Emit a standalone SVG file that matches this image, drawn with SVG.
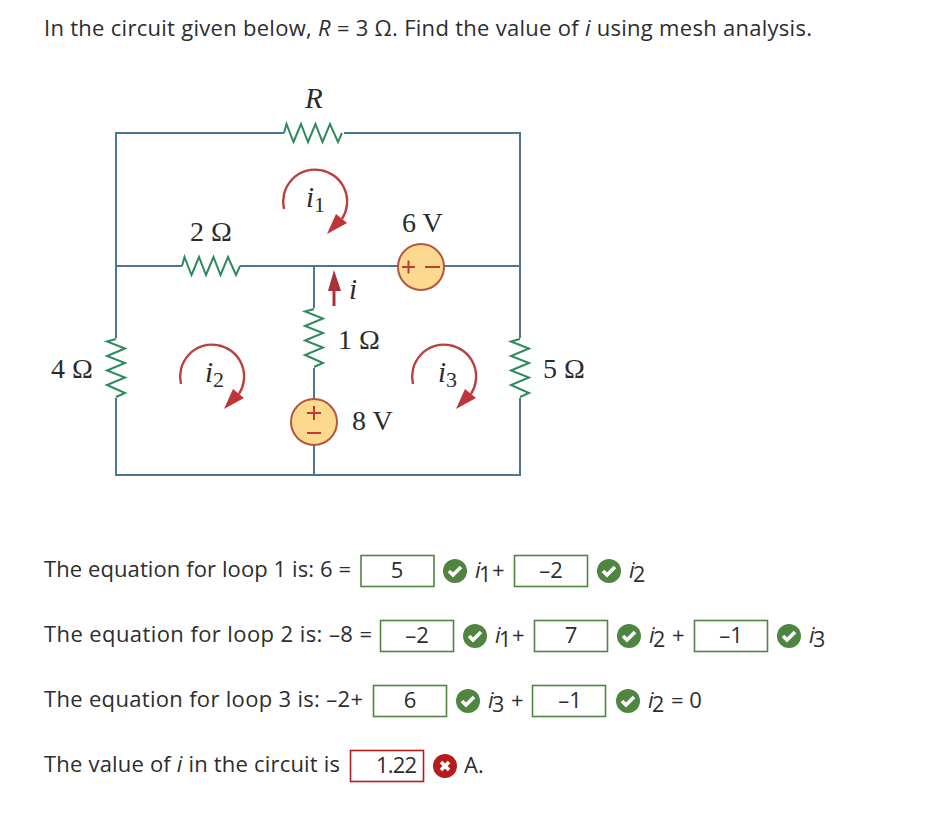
<svg xmlns="http://www.w3.org/2000/svg" xmlns:xlink="http://www.w3.org/1999/xlink" width="940" height="826" viewBox="0 0 940 826">
<style>
.w{fill:none;stroke:#4d7592;stroke-width:2}
.z{fill:none;stroke:#2f8a5c;stroke-width:2}
.s{font-family:"Liberation Serif","Times New Roman",serif;font-size:28px;fill:#2b2b2b}
.si{font-family:"Liberation Serif","Times New Roman",serif;font-size:29px;font-style:italic;fill:#2b2b2b}
.sub{font-family:"Liberation Serif","Times New Roman",serif;font-size:22px;font-style:normal;fill:#2b2b2b}
.t{font-family:"Open Sans","Liberation Sans",sans-serif;font-size:22px;fill:#2d2d2d}
.i{font-style:italic}
.d{font-size:21.500px}
.n{font-family:"Open Sans","Liberation Sans",sans-serif;font-size:22px;fill:#2d2d2d;text-anchor:middle}
.b{fill:#fff;stroke:#4f8441;stroke-width:1.6}
.r{fill:#fff;stroke:#b51c1c;stroke-width:1.6}
.src{fill:#fbd98f;stroke:#b5573f;stroke-width:2}
.sg{fill:none;stroke:#bf3a34;stroke-width:2}
.ck{fill:none;stroke:#fff;stroke-width:3.6}
</style>
<defs>
<g id="loop"><path d="M-31 10A32 32 0 1 1 27 20" fill="none" stroke="#b8403f" stroke-width="2.400"/><polygon points="12,35 21,15 32,24" fill="#c0333a"/></g>
<g id="ok"><circle r="12" fill="#4f8441"/><path class="ck" d="M-6 0L-2 4L6 -4"/></g>
<g id="no"><circle r="12" fill="#b51c1c"/><path class="ck" d="M-4 -4L4 4M4 -4L-4 4"/></g>
<path id="zz" class="z" d="M0 0L2.500 -9L9.500 9L17 -9L24 9L31.500 -9L38.500 9L46 -9L54 9L58 0"/>
</defs>
<rect width="940" height="826" fill="#fff"/>

<text class="t" x="44" y="36" textLength="768">In the circuit given below, <tspan class="i">R</tspan> = 3 Ω. Find the value of <tspan class="i">i</tspan> using mesh analysis.</text>

<g id="connectors">
<path class="w" d="M284 133H116V338M116 398V475H520V398M520 338V133H344"/>
<path class="w" d="M116 266H182M240 266H398M444 266H520"/>
<path class="w" d="M314 266V308M314 368V399M314 445V475"/>
<path d="M334 306V290" stroke="#a93238" stroke-width="3" fill="none"/>
<polygon points="334,270 341,291 328,291" fill="#a93238"/>
</g>

<g id="R"><use xlink:href="#zz" href="#zz" transform="translate(284 133)"/><text class="si" x="305" y="108">R</text></g>
<g id="R2"><use xlink:href="#zz" href="#zz" transform="translate(182 266)"/><text class="s" x="190" y="241">2 Ω</text></g>
<g id="R4"><use xlink:href="#zz" href="#zz" transform="translate(116 339) rotate(90) scale(1 -1)"/><text class="s" x="51" y="378">4 Ω</text></g>
<g id="R1"><use xlink:href="#zz" href="#zz" transform="translate(314 309) rotate(90) scale(1 -1)"/><text class="s" x="338" y="349">1 Ω</text></g>
<g id="R5"><use xlink:href="#zz" href="#zz" transform="translate(520 339) rotate(90) scale(1 -1)"/><text class="s" x="543" y="378">5 Ω</text></g>

<g id="V6"><circle class="src" cx="421" cy="267" r="23"/><path class="sg" d="M402 267H415M408.500 260.500V273.500M425 267H440"/><text class="s" x="402" y="232">6 V</text></g>
<g id="V8"><circle class="src" cx="314" cy="422" r="23"/><path class="sg" d="M307 413H321M314 406V420M307 433H321"/><text class="s" x="352" y="430">8 V</text></g>

<g id="mesh1"><use xlink:href="#loop" href="#loop" transform="translate(315 199)"/><text class="si" x="306" y="207">i<tspan class="sub" dy="5">1</tspan></text></g>
<g id="mesh2"><use xlink:href="#loop" href="#loop" transform="translate(212 374)"/><text class="si" x="205" y="382">i<tspan class="sub" dy="5">2</tspan></text></g>
<g id="mesh3"><use xlink:href="#loop" href="#loop" transform="translate(444 374)"/><text class="si" x="438" y="382">i<tspan class="sub" dy="5">3</tspan></text></g>
<text class="si" x="349" y="299">i</text>

<g id="eq1">
<text class="t" x="44" y="577" textLength="307">The equation for loop 1 is: 6 =</text>
<rect class="b" x="361" y="555.500" width="73" height="31"/><text class="n" x="397" y="578">5</text>
<use xlink:href="#ok" href="#ok" x="455" y="571"/>
<text class="t" x="475" y="578"><tspan class="i">i</tspan><tspan class="d" x="479" dy="4">1</tspan><tspan x="492" dy="-4">+</tspan></text>
<rect class="b" x="514.500" y="555.500" width="73" height="31"/><text class="n" x="551" y="578">–2</text>
<use xlink:href="#ok" href="#ok" x="609" y="571"/>
<text class="t" x="629" y="578"><tspan class="i">i</tspan><tspan class="d" x="633" dy="4">2</tspan></text>
</g>
<g id="eq2">
<text class="t" x="44" y="642" textLength="328">The equation for loop 2 is: –8 =</text>
<rect class="b" x="380.500" y="620.500" width="73" height="31"/><text class="n" x="417" y="643">–2</text>
<use xlink:href="#ok" href="#ok" x="475" y="636"/>
<text class="t" x="495" y="643"><tspan class="i">i</tspan><tspan class="d" x="499" dy="4">1</tspan><tspan x="512" dy="-4">+</tspan></text>
<rect class="b" x="534.500" y="620.500" width="73" height="31"/><text class="n" x="571" y="643">7</text>
<use xlink:href="#ok" href="#ok" x="629" y="636"/>
<text class="t" x="649" y="643"><tspan class="i">i</tspan><tspan class="d" x="653" dy="4">2</tspan><tspan x="672" dy="-4">+</tspan></text>
<rect class="b" x="694.500" y="620.500" width="73" height="31"/><text class="n" x="731" y="643">–1</text>
<use xlink:href="#ok" href="#ok" x="789" y="636"/>
<text class="t" x="809" y="643"><tspan class="i">i</tspan><tspan class="d" x="813" dy="4">3</tspan></text>
</g>
<g id="eq3">
<text class="t" x="44" y="707" textLength="319">The equation for loop 3 is: –2+</text>
<rect class="b" x="373.500" y="685.500" width="73" height="31"/><text class="n" x="410" y="708">6</text>
<use xlink:href="#ok" href="#ok" x="468" y="701"/>
<text class="t" x="488" y="708"><tspan class="i">i</tspan><tspan class="d" x="492" dy="4">3</tspan><tspan x="511" dy="-4">+</tspan></text>
<rect class="b" x="532.500" y="685.500" width="73" height="31"/><text class="n" x="570" y="708">–1</text>
<use xlink:href="#ok" href="#ok" x="628" y="701"/>
<text class="t" x="648" y="708"><tspan class="i">i</tspan><tspan class="d" x="652" dy="4">2</tspan><tspan x="671" dy="-4">= 0</tspan></text>
</g>
<g id="eq4">
<text class="t" x="44" y="772" textLength="296">The value of <tspan class="i">i</tspan> in the circuit is</text>
<rect class="r" x="350.500" y="750.500" width="73" height="31"/><text class="t" x="376" y="773" textLength="41">1.22</text>
<use xlink:href="#no" href="#no" x="445" y="766"/>
<text class="t" x="464" y="773">A.</text>
</g>
</svg>
